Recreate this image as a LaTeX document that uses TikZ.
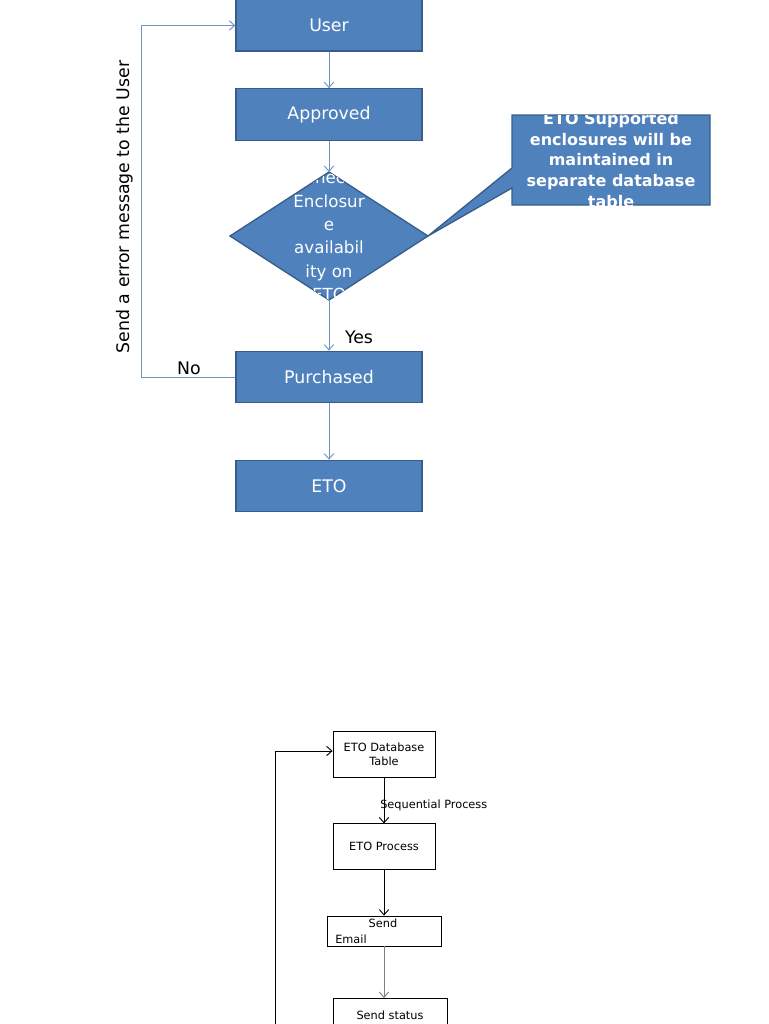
\documentclass[tikz,border=0pt]{standalone}
\usepackage{fontspec}
\setmainfont{DejaVu Sans}
\usetikzlibrary{arrows.meta}
\definecolor{boxfill}{HTML}{4F81BD}
\definecolor{boxline}{HTML}{385D8A}
\definecolor{linkline}{HTML}{6F93C4}
\begin{document}
\begin{tikzpicture}[x=0.75pt,y=-0.75pt,
  blue box/.style={draw=boxline,line width=1pt,fill=boxfill,text=white,minimum width=139.5pt,minimum height=38.5pt,inner sep=0pt,font=\fontsize{13}{15}\selectfont},
  blue link/.style={draw=linkline,line width=0.7pt,-{Straight Barb[length=4pt,width=7pt]}},
  white box/.style={draw=black,line width=0.6pt,fill=white,inner sep=0pt,font=\fontsize{8.5}{10.5}\selectfont,align=center},
  black link/.style={draw=black,line width=0.7pt,-{Straight Barb[length=4pt,width=7pt]}},
  lbl/.style={inner sep=0pt,font=\fontsize{13}{15}\selectfont}]
\useasboundingbox (0,0) rectangle (768,1024);

% upper flow
\node[blue box] (user) at (329,25.5) {User};
\node[blue box] (appr) at (329,114.5) {Approved};
\node[blue box] (purch) at (329,377) {Purchased};
\node[blue box] (eto) at (329,486) {ETO};

% decision diamond with clipped text
\coordinate (dtop) at (329,172);
\coordinate (dbot) at (329,300);
\coordinate (dright) at (428,236);
\path[draw=boxline,line width=1pt,fill=boxfill] (230,236) -- (dtop) -- (dright) -- (dbot) -- cycle;
\begin{scope}
  \clip (230,236) -- (dtop) -- (dright) -- (dbot) -- cycle;
  \node[lbl,text=white,align=center,font=\fontsize{12.5}{17.6}\selectfont] (dec) at (329,236)
    {Check\\Enclosur\\e\\availabil\\ity on\\ETO};
\end{scope}

% callout
\path[draw=boxline,line width=1pt,fill=boxfill] (512,115) -- (710,115) -- (710,205) -- (512,205) -- (512,188) -- (dright) -- (512,168) -- cycle;
\begin{scope}
  \clip (512,115) rectangle (710,205);
  \node[lbl,text=white,align=center,font=\bfseries\fontsize{12}{15.6}\selectfont] (note) at (611,160)
    {ETO Supported\\enclosures will be\\maintained in\\separate database\\table};
\end{scope}

% connectors
\draw[blue link] (user) -- (appr);
\draw[blue link] (appr) -- (dtop);
\draw[blue link] (dbot) -- (purch);
\draw[blue link] (purch) -- (eto);
\draw[blue link] (purch.west) -- (141,377) -- (141,25.5) -- (user.west);
\node[lbl] (yes) at (359,337) {Yes};
\node[lbl] (no) at (189,368) {No};
\node[lbl,rotate=90] (err) at (125,207) {Send a error message to the User};

% lower flow
\node[white box,minimum width=76.5pt,minimum height=34pt] (db) at (384,754.5) {ETO Database\\Table};
\node[white box,minimum width=76.5pt,minimum height=34pt] (proc) at (384,846.5) {ETO Process};
\node[white box,minimum width=85.5pt,minimum height=22.5pt] (mail) at (384,931) {};
\node[inner sep=0pt,font=\fontsize{8.5}{10.5}\selectfont] (mailA) at (383,923) {Send};
\node[inner sep=0pt,font=\fontsize{8.5}{10.5}\selectfont] (mailB) at (351,939.5) {Email};
\node[white box,minimum width=85.5pt,minimum height=45pt,anchor=north] (stat) at (390,998) {};
\node[inner sep=0pt,font=\fontsize{8.5}{10.5}\selectfont] (statT) at (390,1015) {Send status};
\draw[black link] (db) -- (proc);
\node[inner sep=0pt,font=\fontsize{8.5}{10.5}\selectfont,anchor=west] (seq) at (380,805) {Sequential Process};
\draw[black link] (proc) -- (mail);
\draw[draw=gray,line width=0.7pt,-{Straight Barb[length=4pt,width=7pt]}] (mail.south) -- (mail.south |- stat.north);
\coordinate (loopend) at (275,1030);
\draw[black link] (loopend) -- (275,751) -- (db.west |- 0,751);
\end{tikzpicture}
\end{document}
